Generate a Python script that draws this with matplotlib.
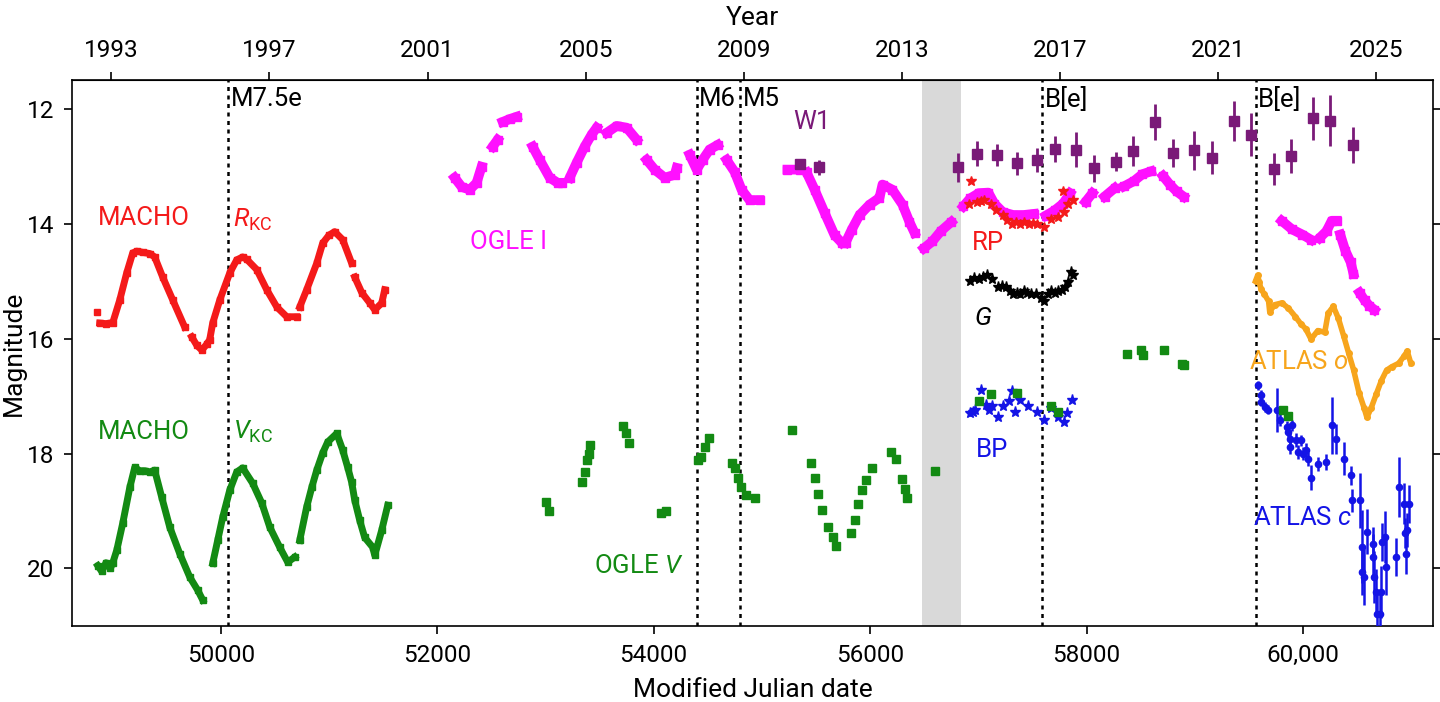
import matplotlib
matplotlib.use("Agg")
import matplotlib.pyplot as plt
import numpy as np

plt.rcParams["font.family"] = ["Roboto", "DejaVu Sans"]
plt.rcParams["mathtext.fontset"] = "custom"
plt.rcParams["mathtext.rm"] = "Roboto"
plt.rcParams["mathtext.it"] = "Roboto:italic"

nan = np.nan

# MACHO R_KC (NaN = seasonal gap)
macho_r_mjd = [48854, nan, 48882, 48940, 49003, 49067, 49131, 49187, 49224, 49280, 49344, 49390,
               49464, 49557, 49667, nan, 49732, 49780, 49825, 49870, 49898, 49926, 49991, 50083,
               50148, 50203, 50240, 50333, 50425, 50518, 50610, 50702, nan, 50730, 50794, 50887,
               50942, 51000, 51053, 51127, 51210, nan, 51238, 51303, 51377, 51423, 51488, 51515]
macho_r_mag = [15.54, nan, 15.73, 15.74, 15.72, 15.33, 14.86, 14.51, 14.48, 14.50, 14.52, 14.58,
               14.93, 15.33, 15.80, nan, 15.97, 16.12, 16.20, 16.10, 16.02, 15.73, 15.33, 14.86,
               14.63, 14.58, 14.62, 14.80, 15.15, 15.45, 15.62, 15.62, nan, 15.45, 15.15, 14.69,
               14.34, 14.20, 14.14, 14.28, 14.69, nan, 14.93, 15.20, 15.38, 15.50, 15.38, 15.15]

# MACHO V_KC
macho_v_mjd = [48864, 48900, 48940, 48980, 49003, 49040, 49095, 49160, 49206, 49252, 49300, 49344,
               49390, 49455, 49529, 49621, 49714, 49788, 49834, nan, 49926, 49972, 50018, 50083,
               50148, 50203, 50296, 50379, 50453, 50545, 50619, 50684, nan, 50730, 50794, 50841,
               50887, 50942, 50988, 51072, 51127, 51173, 51210, 51238, 51284, 51330, 51404, 51423,
               51488, 51543]
macho_v_mag = [19.95, 20.05, 19.90, 20.00, 19.90, 19.68, 19.21, 18.59, 18.24, 18.30, 18.30, 18.32,
               18.29, 18.76, 19.28, 19.74, 20.15, 20.38, 20.55, nan, 19.91, 19.51, 19.11, 18.64,
               18.32, 18.25, 18.52, 18.86, 19.28, 19.63, 19.89, 19.80, nan, 19.51, 18.93, 18.59,
               18.29, 17.99, 17.80, 17.65, 17.94, 18.24, 18.50, 18.81, 19.16, 19.46, 19.63, 19.77,
               19.33, 18.90]

# OGLE I
ogle_i_mjd = [52161, 52226, 52300, 52364, 52410, nan, 52512, 52558, nan, 52605, 52670, 52734, nan,
              52882, 52947, 53039, 53113, 53150, nan, 53224, 53288, 53362, 53427, 53473, nan,
              53566, 53658, 53750, 53843, nan, 53935, 54009, 54102, 54194, 54212, nan,
              54332, 54397, 54452, 54517, 54591, nan, 54674, 54748, 54812, 54886, 54978, nan,
              55236, 55348, nan, 55413, 55487, 55579, 55671, 55736, nan,
              55773, 55828, 55902, 55994, 56086, 56114, 56206, 56299, 56363, 56410, nan,
              56495, 56574, 56653, 56750, nan,
              56860, 56924, 57003, 57092, 57147, 57226, 57321, 57417, 57513, nan,
              57623, 57704, 57783, 57847, nan, 57990, 58053, nan, 58165, 58260, nan,
              58346, 58436, 58515, 58594, nan, 58705, 58769, 58832, 58896, nan,
              59802, 59898, 59993, 60073, nan, 60152, 60216, 60264, 60311, nan,
              60343, 60390, 60439, 60465, nan, 60521, 60567, 60613, 60659]
ogle_i_mag = [13.20, 13.36, 13.41, 13.29, 13.01, nan, 12.66, 12.54, nan, 12.23, 12.18, 12.14, nan,
              12.66, 12.89, 13.20, 13.29, 13.29, nan, 13.20, 12.94, 12.66, 12.45, 12.33, nan,
              12.42, 12.30, 12.33, 12.54, nan, 12.89, 13.06, 13.20, 13.15, 13.03, nan,
              12.80, 13.06, 12.89, 12.71, 12.63, nan, 12.89, 13.10, 13.41, 13.59, 13.59, nan,
              13.06, 13.06, nan, 13.11, 13.41, 13.81, 14.20, 14.33, nan,
              14.33, 14.11, 13.85, 13.67, 13.55, 13.32, 13.41, 13.67, 13.97, 14.16, nan,
              14.43, 14.31, 14.13, 13.97, nan,
              13.70, 13.56, 13.47, 13.46, 13.65, 13.80, 13.85, 13.85, 13.83, nan,
              13.86, 13.77, 13.65, 13.47, nan, 13.62, 13.47, nan, 13.53, 13.38, nan,
              13.35, 13.26, 13.14, 13.09, nan, 13.17, 13.32, 13.44, 13.53, nan,
              13.95, 14.10, 14.19, 14.28, nan, 14.25, 14.13, 13.95, 13.95, nan,
              14.19, 14.47, 14.67, 14.87, nan, 15.20, 15.33, 15.43, 15.50]

# OGLE V (plus later green points)
ogle_v_mjd = [53009, 53033, 53341, 53362, 53384, 53402, 53415, 53716, 53741, 53772, 54071, 54117,
              54409, 54440, 54471, 54511, 54727, 54748, 54779, 54810, 54850, 54933, 55281,
              55456, 55487, 55517, 55558, 55610, 55656, 55687, 55826, 55856, 55887, 55927, 55964,
              56020, 56195, 56235, 56297, 56318, 56339, 56595,
              57003, 57115, 57353, 57671, 57735, 58371, 58498, 58524, 58715, 58881, 58896,
              59813, 59859]
ogle_v_mag = [18.84, 19.00, 18.50, 18.32, 18.11, 18.00, 17.85, 17.52, 17.65, 17.82, 19.04, 19.00,
              18.11, 18.06, 17.88, 17.73, 18.17, 18.26, 18.43, 18.58, 18.72, 18.77, 17.59,
              18.17, 18.43, 18.70, 18.99, 19.28, 19.45, 19.60, 19.39, 19.16, 18.87, 18.64, 18.46,
              18.26, 17.97, 18.10, 18.45, 18.61, 18.78, 18.31,
              17.09, 16.97, 16.94, 17.18, 17.27, 16.26, 16.20, 16.28, 16.19, 16.44, 16.46,
              17.25, 17.35]

# WISE W1
w1_mjd = [55348, 55527, 56812, 56991, 57173, 57353, 57537, 57709, 57900, 58072, 58270, 58429,
          58632, 58794, 58995, 59160, 59357, 59523, 59727, 59892, 60093, 60248, 60465]
w1_mag = [12.96, 13.02, 13.02, 12.78, 12.80, 12.95, 12.89, 12.70, 12.71, 13.04, 12.92, 12.74,
          12.23, 12.77, 12.72, 12.85, 12.21, 12.45, 13.05, 12.82, 12.17, 12.21, 12.63]
w1_err = [0.05, 0.13, 0.25, 0.22, 0.19, 0.20, 0.21, 0.22, 0.30, 0.23, 0.17, 0.26,
          0.32, 0.25, 0.34, 0.28, 0.35, 0.37, 0.28, 0.30, 0.37, 0.44, 0.31]

# Gaia G, RP, BP
gaia_g_mjd = [56924, 56960, 57003, 57040, 57083, 57125, 57178, 57220, 57258, 57290, 57321, 57355,
              57385, 57420, 57449, 57490, 57528, 57576, 57608, 57640, 57671, 57705, 57735, 57770,
              57799, 57824, 57852, 57878]
gaia_g_mag = [14.99, 14.95, 14.96, 14.93, 14.90, 14.96, 15.11, 15.09, 15.11, 15.17, 15.23, 15.20,
              15.23, 15.18, 15.20, 15.22, 15.23, 15.29, 15.34, 15.22, 15.18, 15.20, 15.18, 15.15,
              15.11, 15.02, 14.84, 14.90]
gaia_rp_mjd = [56909, 56933, 56988, 57020, 57052, 57115, 57163, 57226, 57265, 57306, 57345, 57385,
               57425, 57465, 57505, 57544, 57608, 57671, 57735, 57783, 57792, 57830, 57878]
gaia_rp_mag = [13.65, 13.25, 13.62, 13.60, 13.59, 13.65, 13.77, 13.85, 13.93, 14.01, 13.98, 14.00,
               13.97, 14.00, 13.99, 14.00, 14.05, 13.92, 13.89, 13.43, 13.80, 13.65, 13.59]
gaia_bp_mjd = [56924, 56950, 56972, 57026, 57067, 57100, 57125, 57178, 57226, 57283, 57314, 57337,
               57385, 57455, 57544, 57608, 57671, 57735, 57792, 57814, 57862]
gaia_bp_mag = [17.30, 17.28, 17.24, 16.89, 17.15, 17.25, 17.18, 17.36, 17.18, 17.09, 16.91, 17.27,
               17.06, 17.18, 17.27, 17.42, 17.21, 17.36, 17.45, 17.30, 17.06]

# ATLAS o
atlas_o_mjd = [59560, 59580, 59595, 59611, 59643, 59681, 59691, 59738, 59802, 59864, 59929, 59977,
               60024, 60073, 60136, 60200, 60231, 60279, 60326, 60374, 60420, 60467, 60516, 60564,
               60589, 60628, 60675, 60723, 60771, 60819, 60883, 60931, 60962, 60995]
atlas_o_mag = [15.00, 14.90, 15.02, 15.14, 15.23, 15.35, 15.53, 15.41, 15.38, 15.47, 15.62, 15.74,
               15.83, 16.01, 15.86, 15.89, 15.56, 15.44, 15.65, 15.95, 16.25, 16.55, 16.94, 17.21,
               17.37, 17.21, 16.97, 16.73, 16.55, 16.49, 16.43, 16.31, 16.22, 16.43]

# ATLAS c
atlas_c_mjd = [59582, 59607, 59613, 59644, 59675, 59758, 59789, 59850, 59859, 59876, 59881, 59900,
               59937, 59952, 59983, 59998, 60024, 60044, 60077, 60138, 60209, 60271, 60308, 60379,
               60438, 60447, 60530, 60540, 60545, 60561, 60591, 60641, 60647, 60656, 60672, 60678,
               60708, 60724, 60733, 60754, 60763, 60862, 60883, 60930, 60939, 60948, 60960, 60979]
atlas_c_mag = [16.81, 16.98, 17.10, 17.19, 17.24, 17.24, 17.42, 17.53, 17.62, 17.74, 17.88, 17.51,
               17.77, 17.97, 17.77, 18.00, 17.94, 18.09, 18.42, 18.18, 18.15, 17.51, 17.74, 18.09,
               18.38, 18.81, 18.81, 19.62, 20.06, 20.15, 19.36, 19.57, 19.80, 20.15, 20.41, 20.79,
               20.79, 20.41, 19.54, 19.45, 19.97, 19.80, 18.58, 18.87, 19.39, 19.74, 19.33, 18.87]
atlas_c_err = [0.08, 0.08, 0.08, 0.08, 0.08, 0.38, 0.10, 0.10, 0.10, 0.12, 0.12, 0.10,
               0.12, 0.12, 0.10, 0.12, 0.12, 0.12, 0.22, 0.12, 0.14, 0.50, 0.26, 0.29,
               0.16, 0.20, 0.48, 0.64, 0.40, 0.49, 0.39, 0.30, 0.40, 0.45, 0.40, 0.40,
               0.40, 0.45, 0.33, 0.45, 0.49, 0.33, 0.52, 0.35, 0.26, 0.35, 0.29, 0.33]

# spectral-type epochs and gap
epoch_mjd = [50070, 54397, 54800, 57590, 59560]
epoch_labels = ["M7.5e", "M6", "M5", "B[e]", "B[e]"]
gap_mjd = (56475, 56840)

year_ticks = [1993, 1997, 2001, 2005, 2009, 2013, 2017, 2021, 2025]
mjd_ticks = [50000, 52000, 54000, 56000, 58000, 60000]
mjd_ticklabels = ["50000", "52000", "54000", "56000", "58000", "60,000"]
mag_ticks = [12, 14, 16, 18, 20]

RED = "#f41a1a"
GREEN = "#138a13"
MAGENTA = "#ff10ff"
PURPLE = "#7a1a78"
ORANGE = "#f7a51c"
BLUE = "#1414e6"

fig = plt.figure(figsize=(14.4, 7.02), dpi=100)
ax = fig.add_axes([0.05, 0.1083, 0.945, 0.7778])

ax.axvspan(*gap_mjd, color="#d9d9d9", lw=0, zorder=0)
for m, lab in zip(epoch_mjd, epoch_labels):
    ax.axvline(m, color="k", lw=1.8, ls=(0, (1.6, 1.8)), zorder=1)
    ax.text(m + 25, 11.84, lab, fontsize=18.5, va="center", ha="left")

ax.plot(macho_r_mjd, macho_r_mag, "s-", color=RED, ms=4, lw=5, zorder=3)
ax.plot(macho_v_mjd, macho_v_mag, "s-", color=GREEN, ms=4, lw=5, zorder=3)
ax.plot(ogle_i_mjd, ogle_i_mag, "s-", color=MAGENTA, ms=6, lw=7, zorder=3)
ax.plot(ogle_v_mjd, ogle_v_mag, "s", color=GREEN, ms=6, zorder=4)
ax.plot(gaia_rp_mjd, gaia_rp_mag, "*", color=RED, ms=7, zorder=4)
ax.plot(gaia_g_mjd, gaia_g_mag, "*", color="k", ms=8, zorder=4)
ax.plot(gaia_bp_mjd, gaia_bp_mag, "*", color=BLUE, ms=8, zorder=3)
ax.plot(atlas_o_mjd, atlas_o_mag, "o-", color=ORANGE, ms=4, lw=4, zorder=3)
ax.errorbar(atlas_c_mjd, atlas_c_mag, yerr=atlas_c_err, fmt="o", color=BLUE, ms=4.5,
            elinewidth=1.8, capsize=0, zorder=3)
ax.errorbar(w1_mjd, w1_mag, yerr=w1_err, fmt="s", color=PURPLE, ms=7.5,
            elinewidth=2, capsize=0, zorder=4)

fs = 18.5
ax.text(48866, 13.9, "MACHO", color=RED, fontsize=fs, va="center")
ax.text(50111, 13.93, r"$R_{\mathrm{KC}}$", color=RED, fontsize=fs, va="center")
ax.text(48866, 17.63, "MACHO", color=GREEN, fontsize=fs, va="center")
ax.text(50111, 17.63, r"$V_{\mathrm{KC}}$", color=GREEN, fontsize=fs, va="center")
ax.text(52660, 14.32, "OGLE I", color=MAGENTA, fontsize=fs, va="center", ha="center")
ax.text(53861, 19.96, r"OGLE $V$", color=GREEN, fontsize=fs, va="center", ha="center")
ax.text(55459, 12.24, "W1", color=PURPLE, fontsize=fs, va="center", ha="center")
ax.text(56937, 14.33, "RP", color=RED, fontsize=fs, va="center")
ax.text(57039, 15.64, r"$G$", color="k", fontsize=fs, va="center", ha="center")
ax.text(56974, 17.94, "BP", color=BLUE, fontsize=fs, va="center")
ax.text(59500, 16.41, r"ATLAS $o$", color=ORANGE, fontsize=fs, va="center")
ax.text(59533, 19.13, r"ATLAS $c$", color=BLUE, fontsize=fs, va="center")

ax.set_xlim(48626, 61198)
ax.set_ylim(21.0, 11.5)
ax.set_xticks(mjd_ticks)
ax.set_xticklabels(mjd_ticklabels)
ax.set_yticks(mag_ticks)
ax.tick_params(axis="both", direction="out", length=6, width=1.2, labelsize=17.5, pad=7)
ax.tick_params(axis="y", right=True)
for s in ax.spines.values():
    s.set_linewidth(1.2)
ax.set_xlabel("Modified Julian date", fontsize=19, labelpad=8)
ax.set_ylabel("Magnitude", fontsize=19)
ax.yaxis.set_label_coords(-0.034, 0.5)

top = ax.secondary_xaxis("top", functions=(lambda m: 1858.877 + m / 365.25,
                                           lambda y: (y - 1858.877) * 365.25))
top.set_xticks(year_ticks)
top.tick_params(direction="out", length=6, width=1.2, labelsize=17.5, pad=7)
top.set_xlabel("Year", fontsize=19, labelpad=10)

fig.savefig("out.png", dpi=100)
